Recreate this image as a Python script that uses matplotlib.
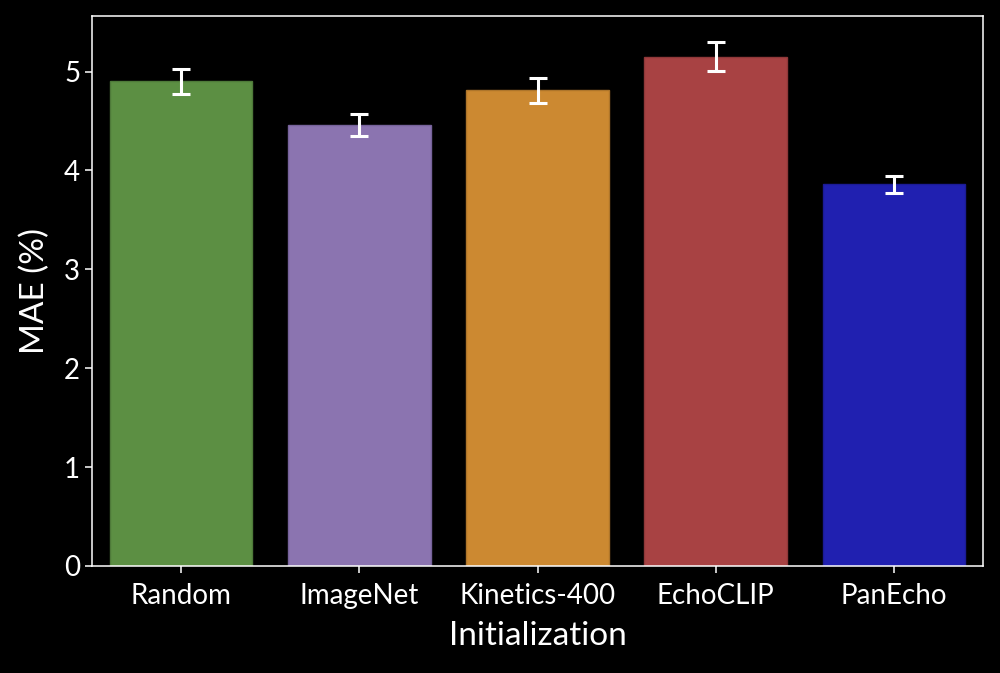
import numpy as np
import matplotlib
matplotlib.use("Agg")
import matplotlib.pyplot as plt

# values
categories = ["Random", "ImageNet", "Kinetics-400", "EchoCLIP", "PanEcho"]
mae = [4.90, 4.46, 4.81, 5.15, 3.86]
mae_err = [0.13, 0.11, 0.125, 0.145, 0.085]
colors = ["#5C8F43", "#8B74B0", "#CC8931", "#A84243", "#2020B0"]
edge_colors = ["#4E7A39", "#76629A", "#AE752A", "#8F3839", "#1B1B96"]

plt.rcParams['font.family'] = ['Lato', 'DejaVu Sans']

fig = plt.figure(figsize=(10, 6.73), dpi=100, facecolor="black")
ax = fig.add_axes([0.092, 0.159, 0.891, 0.817])
ax.set_facecolor("black")

x = np.arange(len(categories))
ax.bar(x, mae, width=0.8, color=colors, edgecolor=edge_colors, linewidth=1)
ax.errorbar(x, mae, yerr=mae_err, fmt="none", ecolor="white",
            elinewidth=2.2, capsize=6.5, capthick=2.2)

ax.set_xlim(-0.5, 4.5)
ax.set_ylim(0, 5.56)
ax.set_xticks(x)
ax.set_xticklabels(categories)
ax.set_yticks([0, 1, 2, 3, 4, 5])

for s in ax.spines.values():
    s.set_color("white")
    s.set_linewidth(1.1)
ax.tick_params(colors="white", labelsize=20, length=5, width=1.1)
ax.tick_params(axis="x", pad=7)
ax.set_xlabel("Initialization", color="white", fontsize=24, labelpad=9)
ax.set_ylabel("MAE (%)", color="white", fontsize=24, labelpad=10)

fig.savefig("out.png", dpi=100, facecolor="black")
